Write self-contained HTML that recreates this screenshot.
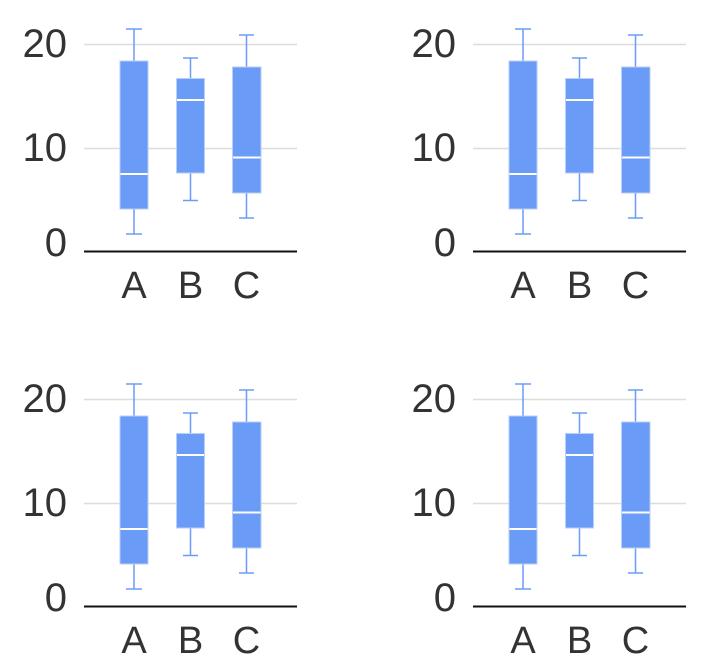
<!DOCTYPE html>
<html><head><style>html,body{margin:0;padding:0;background:#fff}svg{display:block}
text{font-family:"Liberation Sans",sans-serif;fill:#333}</style></head><body>
<svg width="701" height="665" viewBox="0 0 701 665" xmlns="http://www.w3.org/2000/svg">
<defs>
<g id="c">
<line x1="84" y1="44.5" x2="297" y2="44.5" stroke="#ddd" stroke-width="1.5"/>
<line x1="84" y1="148.5" x2="297" y2="148.5" stroke="#ddd" stroke-width="1.5"/>
<text x="67" y="57" font-size="40" text-anchor="end">20</text>
<text x="67" y="161" font-size="40" text-anchor="end">10</text>
<text x="67" y="256" font-size="40" text-anchor="end">0</text>
<g stroke="#6b9cf7" stroke-width="1.5">
<line x1="134" y1="29" x2="134" y2="234"/><line x1="126" y1="29" x2="142" y2="29"/><line x1="126" y1="234" x2="142" y2="234"/>
<line x1="190.5" y1="58" x2="190.5" y2="200.5"/><line x1="183" y1="58" x2="198" y2="58"/><line x1="183" y1="200.5" x2="198" y2="200.5"/>
<line x1="246.5" y1="35" x2="246.5" y2="218"/><line x1="239" y1="35" x2="254" y2="35"/><line x1="239" y1="218" x2="254" y2="218"/>
</g>
<g fill="#6a9bf6" stroke="#b8cefb" stroke-width="1">
<rect x="120" y="61" width="28" height="148"/>
<rect x="176.5" y="78.5" width="28" height="94.5"/>
<rect x="232.5" y="67" width="28.5" height="126"/>
</g>
<g stroke="#fff" stroke-width="2">
<line x1="120.5" y1="174" x2="147.5" y2="174"/>
<line x1="177" y1="100" x2="204" y2="100"/>
<line x1="233" y1="157.5" x2="260.5" y2="157.5"/>
</g>
<line x1="84" y1="251.5" x2="297" y2="251.5" stroke="#111" stroke-width="2"/>
<text x="134" y="298" font-size="38" text-anchor="middle">A</text>
<text x="190.5" y="298" font-size="38" text-anchor="middle">B</text>
<text x="246.5" y="298" font-size="38" text-anchor="middle">C</text>
</g>
</defs>
<use href="#c"/>
<use href="#c" transform="translate(389,0)"/>
<use href="#c" transform="translate(0,355)"/>
<use href="#c" transform="translate(389,355)"/>
</svg>
</body></html>
